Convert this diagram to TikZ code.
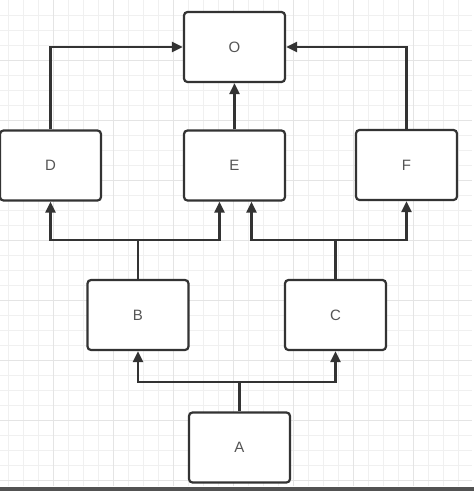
\documentclass[tikz,border=0pt]{standalone}
\usepackage{fontspec}
\setmainfont{Liberation Sans}
\usetikzlibrary{arrows.meta}
\definecolor{ink}{HTML}{333333}
\definecolor{lbl}{HTML}{555555}
\definecolor{gminor}{HTML}{F0F0F0}
\definecolor{gmajor}{HTML}{E4E4E4}
\begin{document}
\begin{tikzpicture}[x=1pt,y=-1pt,
  blk/.style={draw=ink, fill=white, line width=2.2pt, rounded corners=3.5pt,
    minimum width=101pt, minimum height=70pt, text=lbl, font=\fontsize{15}{17}\selectfont},
  arr/.style={draw=ink, line width=2.2pt, -{Triangle[length=11pt,width=10pt]}},
  ln/.style={draw=ink, line width=2.2pt}]
\useasboundingbox (0,0) rectangle (474,491);
\fill[white] (0,0) rectangle (474,491);
% grid
\foreach \x in {8,23,...,470} \draw[gminor, line width=0.9pt] (\x,0) -- (\x,486);
\foreach \y in {15,30,...,486} \draw[gminor, line width=0.9pt] (0,\y) -- (472,\y);
\foreach \y in {60,120,...,486} \draw[gmajor, line width=1pt] (0,\y) -- (472,\y);
\foreach \x in {53,113,...,470} \draw[gmajor, line width=1pt] (\x,0) -- (\x,486);
\fill[ink!85] (0,487) rectangle (474,491);
% boxes
\node[blk] (o) at (234.5,47) {O};
\node[blk] (d) at (50.5,165.5) {D};
\node[blk] (e) at (234.5,165.5) {E};
\node[blk] (f) at (406.5,165) {F};
\node[blk] (b) at (138,315) {B};
\node[blk] (c) at (335.5,315) {C};
\node[blk] (a) at (239.5,447.5) {A};
% junctions
\coordinate (bj) at (138,240);
\coordinate (cj) at (335.5,240);
\coordinate (aj) at (239.5,382);
% top level
\draw[arr] (d.north) |- (o.west);
\draw[arr] (f.north) |- (o.east);
\draw[arr] (e) -- (o);
% middle level
\draw[ln] (b.north) -- (bj);
\draw[arr] (bj) -| (d.south);
\draw[arr] (bj) -| ([xshift=-15pt]e.south);
\draw[ln] (c.north) -- (cj);
\draw[arr] (cj) -| ([xshift=17pt]e.south);
\draw[arr] (cj) -| (f.south);
% bottom level
\draw[ln] (a.north) -- (aj);
\draw[arr] (aj) -| (b.south);
\draw[arr] (aj) -| (c.south);
\end{tikzpicture}
\end{document}
